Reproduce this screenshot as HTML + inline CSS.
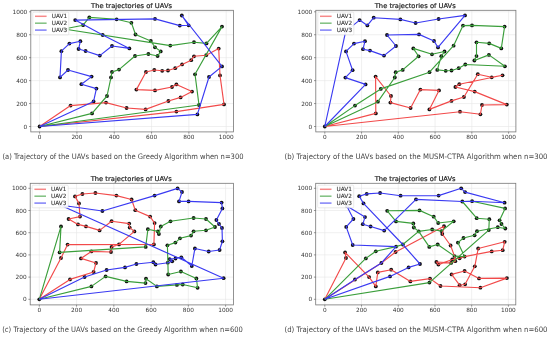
<!DOCTYPE html>
<html><head><meta charset="utf-8"><title>UAV trajectories</title>
<style>
html,body{margin:0;padding:0;background:#fff;}
svg{display:block;}
.tk{font-family:"DejaVu Sans",sans-serif;font-size:5.8px;fill:#333;}
.ti{font-family:"DejaVu Sans",sans-serif;font-size:6.6px;fill:#222;stroke:#222;stroke-width:0.2px;}
.lg{font-family:"DejaVu Sans",sans-serif;font-size:5.75px;fill:#333;stroke:#333;stroke-width:0.1px;}
.cap{font-family:"DejaVu Sans Condensed","DejaVu Sans",sans-serif;font-size:7.5px;fill:#444;}
</style></head><body>
<svg width="550" height="337" viewBox="0 0 550 337">
<rect width="550" height="337" fill="#fff"/>
<g id="pa">
<path d="M39.6 10.3V131.9M76.92 10.3V131.9M114.24 10.3V131.9M151.56 10.3V131.9M188.88 10.3V131.9M226.2 10.3V131.9M30.8 126.5H233.5M30.8 103.56H233.5M30.8 80.62H233.5M30.8 57.68H233.5M30.8 34.74H233.5M30.8 11.8H233.5" stroke="#e6e6e6" stroke-width="0.6" fill="none"/>
<g fill="#111"><circle cx="39.6" cy="126.5" r="1.9"/><circle cx="70.6" cy="105.6" r="1.9"/><circle cx="106" cy="102.6" r="1.9"/><circle cx="126.6" cy="108" r="1.9"/><circle cx="145.6" cy="109.4" r="1.9"/><circle cx="168.4" cy="101" r="1.9"/><circle cx="180.6" cy="97.4" r="1.9"/><circle cx="192" cy="91.6" r="1.9"/><circle cx="176.4" cy="84.4" r="1.9"/><circle cx="172" cy="87" r="1.9"/><circle cx="155" cy="90.4" r="1.9"/><circle cx="136.4" cy="89.6" r="1.9"/><circle cx="146" cy="72" r="1.9"/><circle cx="154.3" cy="70" r="1.9"/><circle cx="162.2" cy="70.8" r="1.9"/><circle cx="168" cy="70.5" r="1.9"/><circle cx="175.2" cy="68.2" r="1.9"/><circle cx="182.1" cy="64.4" r="1.9"/><circle cx="191.2" cy="60.2" r="1.9"/><circle cx="194" cy="56.3" r="1.9"/><circle cx="206.2" cy="55.2" r="1.9"/><circle cx="218.7" cy="48.6" r="1.9"/><circle cx="220" cy="75.4" r="1.9"/><circle cx="224" cy="104.4" r="1.9"/><circle cx="176.4" cy="111.6" r="1.9"/><circle cx="92" cy="113.4" r="1.9"/><circle cx="107" cy="96" r="1.9"/><circle cx="111" cy="77.4" r="1.9"/><circle cx="112" cy="72" r="1.9"/><circle cx="119" cy="69.6" r="1.9"/><circle cx="135" cy="56" r="1.9"/><circle cx="148.4" cy="54" r="1.9"/><circle cx="157.6" cy="56" r="1.9"/><circle cx="160.7" cy="51.4" r="1.9"/><circle cx="155" cy="47.3" r="1.9"/><circle cx="150.8" cy="41" r="1.9"/><circle cx="135.5" cy="34.5" r="1.9"/><circle cx="131.4" cy="22.8" r="1.9"/><circle cx="116.6" cy="19.3" r="1.9"/><circle cx="89.3" cy="17.4" r="1.9"/><circle cx="83.1" cy="25.2" r="1.9"/><circle cx="64" cy="29" r="1.9"/><circle cx="170.3" cy="45.6" r="1.9"/><circle cx="194" cy="42.2" r="1.9"/><circle cx="206.5" cy="43.4" r="1.9"/><circle cx="222" cy="26.6" r="1.9"/><circle cx="195" cy="74.3" r="1.9"/><circle cx="199" cy="105" r="1.9"/><circle cx="93.6" cy="101.4" r="1.9"/><circle cx="96.4" cy="88.6" r="1.9"/><circle cx="81.4" cy="84.2" r="1.9"/><circle cx="91.6" cy="76.6" r="1.9"/><circle cx="68" cy="70" r="1.9"/><circle cx="60" cy="77.4" r="1.9"/><circle cx="61.4" cy="51.2" r="1.9"/><circle cx="69.4" cy="43.6" r="1.9"/><circle cx="80.4" cy="41.2" r="1.9"/><circle cx="78.6" cy="49" r="1.9"/><circle cx="85.6" cy="51" r="1.9"/><circle cx="99.8" cy="55.6" r="1.9"/><circle cx="112" cy="46" r="1.9"/><circle cx="129.4" cy="48.4" r="1.9"/><circle cx="102.7" cy="35" r="1.9"/><circle cx="75.2" cy="20.1" r="1.9"/><circle cx="155" cy="18.9" r="1.9"/><circle cx="179.8" cy="25.6" r="1.9"/><circle cx="188.6" cy="25.3" r="1.9"/><circle cx="181.8" cy="15.5" r="1.9"/><circle cx="222" cy="66.4" r="1.9"/><circle cx="209" cy="77" r="1.9"/><circle cx="197.4" cy="114.4" r="1.9"/></g>
<polyline points="39.6,126.5 70.6,105.6 106,102.6 126.6,108 145.6,109.4 168.4,101 180.6,97.4 192,91.6 176.4,84.4 172,87 155,90.4 136.4,89.6 146,72 154.3,70 162.2,70.8 168,70.5 175.2,68.2 182.1,64.4 191.2,60.2 194,56.3 206.2,55.2 218.7,48.6 220,75.4 224,104.4 176.4,111.6 39.6,126.5" fill="none" stroke="#f24a4a" stroke-width="1.15" stroke-linejoin="round"/>
<polyline points="39.6,126.5 92,113.4 107,96 111,77.4 112,72 119,69.6 135,56 148.4,54 157.6,56 160.7,51.4 155,47.3 150.8,41 135.5,34.5 131.4,22.8 116.6,19.3 89.3,17.4 83.1,25.2 64,29 170.3,45.6 194,42.2 206.5,43.4 222,26.6 195,74.3 199,105 39.6,126.5" fill="none" stroke="#3a9e3a" stroke-width="1.15" stroke-linejoin="round"/>
<polyline points="39.6,126.5 93.6,101.4 96.4,88.6 81.4,84.2 91.6,76.6 68,70 60,77.4 61.4,51.2 69.4,43.6 80.4,41.2 78.6,49 85.6,51 99.8,55.6 112,46 129.4,48.4 102.7,35 75.2,20.1 155,18.9 179.8,25.6 188.6,25.3 181.8,15.5 222,66.4 209,77 197.4,114.4 39.6,126.5" fill="none" stroke="#3a3af2" stroke-width="1.15" stroke-linejoin="round"/>
<rect x="30.8" y="10.3" width="202.7" height="121.6" fill="none" stroke="#777" stroke-width="0.8"/>
<path d="M39.6 131.9v1.8M76.92 131.9v1.8M114.24 131.9v1.8M151.56 131.9v1.8M188.88 131.9v1.8M226.2 131.9v1.8M30.8 126.5h-1.8M30.8 103.56h-1.8M30.8 80.62h-1.8M30.8 57.68h-1.8M30.8 34.74h-1.8M30.8 11.8h-1.8" stroke="#555" stroke-width="0.6"/>
<text class="tk" x="39.6" y="138.9" text-anchor="middle">0</text>
<text class="tk" x="76.92" y="138.9" text-anchor="middle">200</text>
<text class="tk" x="114.24" y="138.9" text-anchor="middle">400</text>
<text class="tk" x="151.56" y="138.9" text-anchor="middle">600</text>
<text class="tk" x="188.88" y="138.9" text-anchor="middle">800</text>
<text class="tk" x="226.2" y="138.9" text-anchor="middle">1000</text>
<text class="tk" x="27.3" y="128.6" text-anchor="end">0</text>
<text class="tk" x="27.3" y="105.66" text-anchor="end">200</text>
<text class="tk" x="27.3" y="82.72" text-anchor="end">400</text>
<text class="tk" x="27.3" y="59.78" text-anchor="end">600</text>
<text class="tk" x="27.3" y="36.84" text-anchor="end">800</text>
<text class="tk" x="27.3" y="13.9" text-anchor="end">1000</text>
<text class="ti" x="91.05" y="7.6" textLength="81" lengthAdjust="spacingAndGlyphs">The trajectories of UAVs</text>
<rect x="32.8" y="12.2" width="36" height="22.6" rx="1" fill="#fff" fill-opacity="0.92" stroke="#d4d4d4" stroke-width="0.5"/>
<path d="M35 16.3h11.6" stroke="#f24a4a" stroke-width="1.5" stroke-opacity="0.65"/>
<text class="lg" x="51.7" y="18.2">UAV1</text>
<path d="M35 23.2h11.6" stroke="#3a9e3a" stroke-width="1.5" stroke-opacity="0.65"/>
<text class="lg" x="51.7" y="25.1">UAV2</text>
<path d="M35 30.1h11.6" stroke="#3a3af2" stroke-width="1.5" stroke-opacity="0.65"/>
<text class="lg" x="51.7" y="32">UAV3</text>
</g>
<text class="cap" x="2.4" y="159.2" textLength="241.2" lengthAdjust="spacingAndGlyphs">(a) Trajectory of the UAVs based on the Greedy Algorithm when n=300</text>
<g id="pb">
<path d="M324.8 10.3V131.9M361.56 10.3V131.9M398.32 10.3V131.9M435.08 10.3V131.9M471.84 10.3V131.9M508.6 10.3V131.9M315.8 126.5H515.9M315.8 103.56H515.9M315.8 80.62H515.9M315.8 57.68H515.9M315.8 34.74H515.9M315.8 11.8H515.9" stroke="#e6e6e6" stroke-width="0.6" fill="none"/>
<g fill="#111"><circle cx="324.8" cy="126.5" r="1.9"/><circle cx="375.8" cy="113.4" r="1.9"/><circle cx="375.6" cy="76.6" r="1.9"/><circle cx="391" cy="96" r="1.9"/><circle cx="390.4" cy="102.6" r="1.9"/><circle cx="410.6" cy="108" r="1.9"/><circle cx="420.4" cy="89.6" r="1.9"/><circle cx="439" cy="90.4" r="1.9"/><circle cx="429.4" cy="109.4" r="1.9"/><circle cx="451.5" cy="100.9" r="1.9"/><circle cx="463.9" cy="97" r="1.9"/><circle cx="477.8" cy="74.2" r="1.9"/><circle cx="491.7" cy="77.3" r="1.9"/><circle cx="502.5" cy="75.3" r="1.9"/><circle cx="459.3" cy="84.2" r="1.9"/><circle cx="455.4" cy="87" r="1.9"/><circle cx="474.7" cy="91.6" r="1.9"/><circle cx="506.8" cy="104.6" r="1.9"/><circle cx="482" cy="105" r="1.9"/><circle cx="480.4" cy="114.3" r="1.9"/><circle cx="460" cy="111.7" r="1.9"/><circle cx="355" cy="105.6" r="1.9"/><circle cx="380.8" cy="88.9" r="1.9"/><circle cx="429.5" cy="72.2" r="1.9"/><circle cx="453.6" cy="45.7" r="1.9"/><circle cx="463" cy="25.6" r="1.9"/><circle cx="472" cy="25.4" r="1.9"/><circle cx="504.6" cy="26.6" r="1.9"/><circle cx="501.3" cy="48.4" r="1.9"/><circle cx="489.2" cy="43.4" r="1.9"/><circle cx="476.5" cy="42.3" r="1.9"/><circle cx="476.5" cy="56.1" r="1.9"/><circle cx="474.4" cy="60.5" r="1.9"/><circle cx="488.9" cy="54.9" r="1.9"/><circle cx="504.9" cy="66.3" r="1.9"/><circle cx="465.3" cy="64.5" r="1.9"/><circle cx="458.7" cy="68.2" r="1.9"/><circle cx="451.5" cy="70.5" r="1.9"/><circle cx="445.7" cy="70.8" r="1.9"/><circle cx="437.3" cy="69.9" r="1.9"/><circle cx="441.3" cy="56.2" r="1.9"/><circle cx="444.5" cy="51.5" r="1.9"/><circle cx="432" cy="54.3" r="1.9"/><circle cx="413.3" cy="48.4" r="1.9"/><circle cx="418.6" cy="56.3" r="1.9"/><circle cx="402.7" cy="69.9" r="1.9"/><circle cx="395.7" cy="72.2" r="1.9"/><circle cx="394.8" cy="77.5" r="1.9"/><circle cx="377.9" cy="101.7" r="1.9"/><circle cx="365.6" cy="84.4" r="1.9"/><circle cx="345.4" cy="77.6" r="1.9"/><circle cx="352.6" cy="70.2" r="1.9"/><circle cx="346" cy="51.4" r="1.9"/><circle cx="354" cy="43.6" r="1.9"/><circle cx="365" cy="41.2" r="1.9"/><circle cx="363" cy="49.2" r="1.9"/><circle cx="370" cy="50.6" r="1.9"/><circle cx="384" cy="55.6" r="1.9"/><circle cx="396" cy="46" r="1.9"/><circle cx="387" cy="35" r="1.9"/><circle cx="419" cy="34.4" r="1.9"/><circle cx="434" cy="41" r="1.9"/><circle cx="438" cy="47.4" r="1.9"/><circle cx="465" cy="15.4" r="1.9"/><circle cx="438.6" cy="19" r="1.9"/><circle cx="415.6" cy="23" r="1.9"/><circle cx="400.4" cy="19.4" r="1.9"/><circle cx="373.7" cy="17.7" r="1.9"/><circle cx="367.4" cy="25.4" r="1.9"/><circle cx="359.6" cy="20.1" r="1.9"/><circle cx="345.7" cy="31.4" r="1.9"/></g>
<polyline points="324.8,126.5 375.8,113.4 375.6,76.6 391,96 390.4,102.6 410.6,108 420.4,89.6 439,90.4 429.4,109.4 451.5,100.9 463.9,97 477.8,74.2 491.7,77.3 502.5,75.3 459.3,84.2 455.4,87 474.7,91.6 506.8,104.6 482,105 480.4,114.3 460,111.7 324.8,126.5" fill="none" stroke="#f24a4a" stroke-width="1.15" stroke-linejoin="round"/>
<polyline points="324.8,126.5 355,105.6 380.8,88.9 429.5,72.2 453.6,45.7 463,25.6 472,25.4 504.6,26.6 501.3,48.4 489.2,43.4 476.5,42.3 476.5,56.1 474.4,60.5 488.9,54.9 504.9,66.3 465.3,64.5 458.7,68.2 451.5,70.5 445.7,70.8 437.3,69.9 441.3,56.2 444.5,51.5 432,54.3 413.3,48.4 418.6,56.3 402.7,69.9 395.7,72.2 394.8,77.5 377.9,101.7 324.8,126.5" fill="none" stroke="#3a9e3a" stroke-width="1.15" stroke-linejoin="round"/>
<polyline points="324.8,126.5 365.6,84.4 345.4,77.6 352.6,70.2 346,51.4 354,43.6 365,41.2 363,49.2 370,50.6 384,55.6 396,46 387,35 419,34.4 434,41 438,47.4 465,15.4 438.6,19 415.6,23 400.4,19.4 373.7,17.7 367.4,25.4 359.6,20.1 345.7,31.4 324.8,126.5" fill="none" stroke="#3a3af2" stroke-width="1.15" stroke-linejoin="round"/>
<rect x="315.8" y="10.3" width="200.1" height="121.6" fill="none" stroke="#777" stroke-width="0.8"/>
<path d="M324.8 131.9v1.8M361.56 131.9v1.8M398.32 131.9v1.8M435.08 131.9v1.8M471.84 131.9v1.8M508.6 131.9v1.8M315.8 126.5h-1.8M315.8 103.56h-1.8M315.8 80.62h-1.8M315.8 57.68h-1.8M315.8 34.74h-1.8M315.8 11.8h-1.8" stroke="#555" stroke-width="0.6"/>
<text class="tk" x="324.8" y="138.9" text-anchor="middle">0</text>
<text class="tk" x="361.56" y="138.9" text-anchor="middle">200</text>
<text class="tk" x="398.32" y="138.9" text-anchor="middle">400</text>
<text class="tk" x="435.08" y="138.9" text-anchor="middle">600</text>
<text class="tk" x="471.84" y="138.9" text-anchor="middle">800</text>
<text class="tk" x="508.6" y="138.9" text-anchor="middle">1000</text>
<text class="tk" x="312.3" y="128.6" text-anchor="end">0</text>
<text class="tk" x="312.3" y="105.66" text-anchor="end">200</text>
<text class="tk" x="312.3" y="82.72" text-anchor="end">400</text>
<text class="tk" x="312.3" y="59.78" text-anchor="end">600</text>
<text class="tk" x="312.3" y="36.84" text-anchor="end">800</text>
<text class="tk" x="312.3" y="13.9" text-anchor="end">1000</text>
<text class="ti" x="374.75" y="7.6" textLength="81" lengthAdjust="spacingAndGlyphs">The trajectories of UAVs</text>
<rect x="317.8" y="12.2" width="36" height="22.6" rx="1" fill="#fff" fill-opacity="0.92" stroke="#d4d4d4" stroke-width="0.5"/>
<path d="M320 16.3h11.6" stroke="#f24a4a" stroke-width="1.5" stroke-opacity="0.65"/>
<text class="lg" x="336.7" y="18.2">UAV1</text>
<path d="M320 23.2h11.6" stroke="#3a9e3a" stroke-width="1.5" stroke-opacity="0.65"/>
<text class="lg" x="336.7" y="25.1">UAV2</text>
<path d="M320 30.1h11.6" stroke="#3a3af2" stroke-width="1.5" stroke-opacity="0.65"/>
<text class="lg" x="336.7" y="32">UAV3</text>
</g>
<text class="cap" x="284.5" y="159.2" textLength="263" lengthAdjust="spacingAndGlyphs">(b) Trajectory of the UAVs based on the MUSM-CTPA Algorithm when n=300</text>
<g id="pc">
<path d="M39.3 183.3V304.9M76.56 183.3V304.9M113.82 183.3V304.9M151.08 183.3V304.9M188.34 183.3V304.9M225.6 183.3V304.9M30.2 299.3H233.4M30.2 277.1H233.4M30.2 254.9H233.4M30.2 232.7H233.4M30.2 210.5H233.4M30.2 188.3H233.4" stroke="#e6e6e6" stroke-width="0.6" fill="none"/>
<g fill="#111"><circle cx="39.3" cy="299.3" r="1.9"/><circle cx="61" cy="258" r="1.9"/><circle cx="67.6" cy="244.6" r="1.9"/><circle cx="153.9" cy="244.4" r="1.9"/><circle cx="154.6" cy="223.1" r="1.9"/><circle cx="150.1" cy="216.6" r="1.9"/><circle cx="135.3" cy="210.2" r="1.9"/><circle cx="131.6" cy="199.5" r="1.9"/><circle cx="116.4" cy="195.6" r="1.9"/><circle cx="95.4" cy="193" r="1.9"/><circle cx="82.4" cy="194" r="1.9"/><circle cx="75" cy="196.4" r="1.9"/><circle cx="79" cy="203.4" r="1.9"/><circle cx="80" cy="216.6" r="1.9"/><circle cx="68.6" cy="219" r="1.9"/><circle cx="78" cy="224.4" r="1.9"/><circle cx="86" cy="226.4" r="1.9"/><circle cx="99.6" cy="230.4" r="1.9"/><circle cx="111.6" cy="221.2" r="1.9"/><circle cx="129.2" cy="223.6" r="1.9"/><circle cx="129.7" cy="227.6" r="1.9"/><circle cx="134.4" cy="231.4" r="1.9"/><circle cx="119" cy="244.4" r="1.9"/><circle cx="111.6" cy="247" r="1.9"/><circle cx="111" cy="252" r="1.9"/><circle cx="91.4" cy="251.4" r="1.9"/><circle cx="81" cy="258.4" r="1.9"/><circle cx="96" cy="263" r="1.9"/><circle cx="93.6" cy="272" r="1.9"/><circle cx="70" cy="279.4" r="1.9"/><circle cx="61" cy="226.4" r="1.9"/><circle cx="59.6" cy="252.4" r="1.9"/><circle cx="145.7" cy="246.9" r="1.9"/><circle cx="147.9" cy="229.2" r="1.9"/><circle cx="157.9" cy="231.4" r="1.9"/><circle cx="158.9" cy="234" r="1.9"/><circle cx="160.8" cy="226.5" r="1.9"/><circle cx="170.5" cy="221.3" r="1.9"/><circle cx="193.6" cy="218" r="1.9"/><circle cx="206" cy="219" r="1.9"/><circle cx="215" cy="227" r="1.9"/><circle cx="206" cy="230.3" r="1.9"/><circle cx="193.6" cy="231.3" r="1.9"/><circle cx="191" cy="235.6" r="1.9"/><circle cx="180" cy="238.3" r="1.9"/><circle cx="175.4" cy="242.6" r="1.9"/><circle cx="167.4" cy="245.3" r="1.9"/><circle cx="168.2" cy="274.5" r="1.9"/><circle cx="180.9" cy="271.5" r="1.9"/><circle cx="196.4" cy="278.5" r="1.9"/><circle cx="197.6" cy="287.8" r="1.9"/><circle cx="182.7" cy="284.5" r="1.9"/><circle cx="176.9" cy="284.9" r="1.9"/><circle cx="156.9" cy="286.4" r="1.9"/><circle cx="146" cy="278.7" r="1.9"/><circle cx="145.5" cy="283.1" r="1.9"/><circle cx="126.6" cy="281.4" r="1.9"/><circle cx="105.6" cy="276.4" r="1.9"/><circle cx="91.4" cy="286.4" r="1.9"/><circle cx="84.6" cy="277" r="1.9"/><circle cx="106.6" cy="270" r="1.9"/><circle cx="125" cy="267.4" r="1.9"/><circle cx="136.4" cy="264" r="1.9"/><circle cx="153.3" cy="262.2" r="1.9"/><circle cx="155.5" cy="264.5" r="1.9"/><circle cx="167.8" cy="262.7" r="1.9"/><circle cx="172.2" cy="261.3" r="1.9"/><circle cx="169.6" cy="259.1" r="1.9"/><circle cx="175.5" cy="258.5" r="1.9"/><circle cx="181.3" cy="257.3" r="1.9"/><circle cx="191.8" cy="266" r="1.9"/><circle cx="194.9" cy="248.5" r="1.9"/><circle cx="208.7" cy="251.5" r="1.9"/><circle cx="219.6" cy="250" r="1.9"/><circle cx="222.4" cy="241.3" r="1.9"/><circle cx="222" cy="228" r="1.9"/><circle cx="219" cy="224" r="1.9"/><circle cx="216.4" cy="220" r="1.9"/><circle cx="222.4" cy="208.4" r="1.9"/><circle cx="221.6" cy="202.6" r="1.9"/><circle cx="188.6" cy="201.4" r="1.9"/><circle cx="179" cy="201.4" r="1.9"/><circle cx="182" cy="192" r="1.9"/><circle cx="177.6" cy="188.4" r="1.9"/><circle cx="154.6" cy="195.6" r="1.9"/><circle cx="102.4" cy="211" r="1.9"/><circle cx="60" cy="205" r="1.9"/><circle cx="223.6" cy="278.2" r="1.9"/></g>
<polyline points="39.3,299.3 61,258 67.6,244.6 153.9,244.4 154.6,223.1 150.1,216.6 135.3,210.2 131.6,199.5 116.4,195.6 95.4,193 82.4,194 75,196.4 79,203.4 80,216.6 68.6,219 78,224.4 86,226.4 99.6,230.4 111.6,221.2 129.2,223.6 129.7,227.6 134.4,231.4 119,244.4 111.6,247 111,252 91.4,251.4 81,258.4 96,263 93.6,272 70,279.4 39.3,299.3" fill="none" stroke="#f24a4a" stroke-width="1.15" stroke-linejoin="round"/>
<polyline points="39.3,299.3 61,226.4 59.6,252.4 145.7,246.9 147.9,229.2 157.9,231.4 158.9,234 160.8,226.5 170.5,221.3 193.6,218 206,219 215,227 206,230.3 193.6,231.3 191,235.6 180,238.3 175.4,242.6 167.4,245.3 168.2,274.5 180.9,271.5 196.4,278.5 197.6,287.8 182.7,284.5 176.9,284.9 156.9,286.4 146,278.7 145.5,283.1 126.6,281.4 105.6,276.4 91.4,286.4 39.3,299.3" fill="none" stroke="#3a9e3a" stroke-width="1.15" stroke-linejoin="round"/>
<polyline points="39.3,299.3 84.6,277 106.6,270 125,267.4 136.4,264 153.3,262.2 155.5,264.5 167.8,262.7 172.2,261.3 169.6,259.1 175.5,258.5 181.3,257.3 191.8,266 194.9,248.5 208.7,251.5 219.6,250 222.4,241.3 222,228 219,224 216.4,220 222.4,208.4 221.6,202.6 188.6,201.4 179,201.4 182,192 177.6,188.4 154.6,195.6 102.4,211 60,205 223.6,278.2 39.3,299.3" fill="none" stroke="#3a3af2" stroke-width="1.15" stroke-linejoin="round"/>
<rect x="30.2" y="183.3" width="203.2" height="121.6" fill="none" stroke="#777" stroke-width="0.8"/>
<path d="M39.3 304.9v1.8M76.56 304.9v1.8M113.82 304.9v1.8M151.08 304.9v1.8M188.34 304.9v1.8M225.6 304.9v1.8M30.2 299.3h-1.8M30.2 277.1h-1.8M30.2 254.9h-1.8M30.2 232.7h-1.8M30.2 210.5h-1.8M30.2 188.3h-1.8" stroke="#555" stroke-width="0.6"/>
<text class="tk" x="39.3" y="311.9" text-anchor="middle">0</text>
<text class="tk" x="76.56" y="311.9" text-anchor="middle">200</text>
<text class="tk" x="113.82" y="311.9" text-anchor="middle">400</text>
<text class="tk" x="151.08" y="311.9" text-anchor="middle">600</text>
<text class="tk" x="188.34" y="311.9" text-anchor="middle">800</text>
<text class="tk" x="225.6" y="311.9" text-anchor="middle">1000</text>
<text class="tk" x="26.7" y="301.4" text-anchor="end">0</text>
<text class="tk" x="26.7" y="279.2" text-anchor="end">200</text>
<text class="tk" x="26.7" y="257" text-anchor="end">400</text>
<text class="tk" x="26.7" y="234.8" text-anchor="end">600</text>
<text class="tk" x="26.7" y="212.6" text-anchor="end">800</text>
<text class="tk" x="26.7" y="190.4" text-anchor="end">1000</text>
<text class="ti" x="90.7" y="180.6" textLength="81" lengthAdjust="spacingAndGlyphs">The trajectories of UAVs</text>
<rect x="32.2" y="185.2" width="36" height="22.6" rx="1" fill="#fff" fill-opacity="0.92" stroke="#d4d4d4" stroke-width="0.5"/>
<path d="M34.4 189.3h11.6" stroke="#f24a4a" stroke-width="1.5" stroke-opacity="0.65"/>
<text class="lg" x="51.1" y="191.2">UAV1</text>
<path d="M34.4 196.2h11.6" stroke="#3a9e3a" stroke-width="1.5" stroke-opacity="0.65"/>
<text class="lg" x="51.1" y="198.1">UAV2</text>
<path d="M34.4 203.1h11.6" stroke="#3a3af2" stroke-width="1.5" stroke-opacity="0.65"/>
<text class="lg" x="51.1" y="205">UAV3</text>
</g>
<text class="cap" x="2.2" y="332.2" textLength="240.7" lengthAdjust="spacingAndGlyphs">(c) Trajectory of the UAVs based on the Greedy Algorithm when n=600</text>
<g id="pd">
<path d="M324.8 183.3V304.9M361.52 183.3V304.9M398.24 183.3V304.9M434.96 183.3V304.9M471.68 183.3V304.9M508.4 183.3V304.9M315.7 299.3H515.8M315.7 277.1H515.8M315.7 254.9H515.8M315.7 232.7H515.8M315.7 210.5H515.8M315.7 188.3H515.8" stroke="#e6e6e6" stroke-width="0.6" fill="none"/>
<g fill="#111"><circle cx="324.8" cy="299.3" r="1.9"/><circle cx="346" cy="258" r="1.9"/><circle cx="345.1" cy="252.4" r="1.9"/><circle cx="369.1" cy="277.1" r="1.9"/><circle cx="375.8" cy="286.4" r="1.9"/><circle cx="377.8" cy="272.4" r="1.9"/><circle cx="391.2" cy="269.7" r="1.9"/><circle cx="410.4" cy="281.4" r="1.9"/><circle cx="430" cy="278.6" r="1.9"/><circle cx="440.5" cy="286" r="1.9"/><circle cx="480.4" cy="287.7" r="1.9"/><circle cx="506.9" cy="278.1" r="1.9"/><circle cx="479" cy="278.4" r="1.9"/><circle cx="464.6" cy="271" r="1.9"/><circle cx="451.6" cy="274.4" r="1.9"/><circle cx="459.6" cy="285.2" r="1.9"/><circle cx="465.1" cy="284.3" r="1.9"/><circle cx="474.8" cy="266.3" r="1.9"/><circle cx="478.2" cy="248.5" r="1.9"/><circle cx="504.7" cy="241.8" r="1.9"/><circle cx="502.7" cy="250.2" r="1.9"/><circle cx="491.7" cy="251.4" r="1.9"/><circle cx="464.6" cy="256.6" r="1.9"/><circle cx="459.6" cy="258.3" r="1.9"/><circle cx="452.3" cy="259.5" r="1.9"/><circle cx="438.4" cy="264.6" r="1.9"/><circle cx="436.4" cy="262" r="1.9"/><circle cx="451.1" cy="262.9" r="1.9"/><circle cx="455.3" cy="261.2" r="1.9"/><circle cx="454.5" cy="256.1" r="1.9"/><circle cx="450.6" cy="245.5" r="1.9"/><circle cx="442.3" cy="234" r="1.9"/><circle cx="444" cy="226.2" r="1.9"/><circle cx="395.6" cy="252" r="1.9"/><circle cx="381.4" cy="263" r="1.9"/><circle cx="365.8" cy="258.4" r="1.9"/><circle cx="375.8" cy="251.3" r="1.9"/><circle cx="396.1" cy="246.6" r="1.9"/><circle cx="402.8" cy="244.5" r="1.9"/><circle cx="418.7" cy="231.4" r="1.9"/><circle cx="432.2" cy="229.5" r="1.9"/><circle cx="441.5" cy="231.1" r="1.9"/><circle cx="453.7" cy="221.3" r="1.9"/><circle cx="438.2" cy="223" r="1.9"/><circle cx="433.7" cy="216.7" r="1.9"/><circle cx="419.5" cy="210.4" r="1.9"/><circle cx="387.2" cy="210.8" r="1.9"/><circle cx="396" cy="221.4" r="1.9"/><circle cx="413.3" cy="223.4" r="1.9"/><circle cx="413.8" cy="227.5" r="1.9"/><circle cx="429.3" cy="246.9" r="1.9"/><circle cx="437.7" cy="244.5" r="1.9"/><circle cx="457.9" cy="242.6" r="1.9"/><circle cx="463.5" cy="238" r="1.9"/><circle cx="474.6" cy="235.3" r="1.9"/><circle cx="477" cy="231.2" r="1.9"/><circle cx="497.8" cy="227.2" r="1.9"/><circle cx="505.3" cy="228.5" r="1.9"/><circle cx="501.5" cy="224" r="1.9"/><circle cx="499.6" cy="220.3" r="1.9"/><circle cx="505.1" cy="208.4" r="1.9"/><circle cx="472.1" cy="201.2" r="1.9"/><circle cx="462.3" cy="201.5" r="1.9"/><circle cx="476.7" cy="218.2" r="1.9"/><circle cx="489.3" cy="219.2" r="1.9"/><circle cx="488.8" cy="230.1" r="1.9"/><circle cx="429.4" cy="282.6" r="1.9"/><circle cx="355" cy="279.5" r="1.9"/><circle cx="352.7" cy="245" r="1.9"/><circle cx="346.2" cy="226.9" r="1.9"/><circle cx="353.4" cy="219" r="1.9"/><circle cx="346.8" cy="206" r="1.9"/><circle cx="365" cy="217.1" r="1.9"/><circle cx="362.8" cy="224.2" r="1.9"/><circle cx="370.6" cy="226.5" r="1.9"/><circle cx="384.2" cy="230.6" r="1.9"/><circle cx="416" cy="199.4" r="1.9"/><circle cx="504.6" cy="202.7" r="1.9"/><circle cx="465.1" cy="192.1" r="1.9"/><circle cx="461.2" cy="188.3" r="1.9"/><circle cx="438.6" cy="195.6" r="1.9"/><circle cx="400.6" cy="195.7" r="1.9"/><circle cx="380.1" cy="193" r="1.9"/><circle cx="366.7" cy="193.9" r="1.9"/><circle cx="359.2" cy="196.2" r="1.9"/><circle cx="363.5" cy="203.4" r="1.9"/><circle cx="420" cy="264" r="1.9"/><circle cx="408.6" cy="267.4" r="1.9"/><circle cx="390" cy="276.4" r="1.9"/></g>
<polyline points="324.8,299.3 346,258 345.1,252.4 369.1,277.1 375.8,286.4 377.8,272.4 391.2,269.7 410.4,281.4 430,278.6 440.5,286 480.4,287.7 506.9,278.1 479,278.4 464.6,271 451.6,274.4 459.6,285.2 465.1,284.3 474.8,266.3 478.2,248.5 504.7,241.8 502.7,250.2 491.7,251.4 464.6,256.6 459.6,258.3 452.3,259.5 438.4,264.6 436.4,262 451.1,262.9 455.3,261.2 454.5,256.1 450.6,245.5 442.3,234 444,226.2 395.6,252 381.4,263 324.8,299.3" fill="none" stroke="#f24a4a" stroke-width="1.15" stroke-linejoin="round"/>
<polyline points="324.8,299.3 365.8,258.4 375.8,251.3 396.1,246.6 402.8,244.5 418.7,231.4 432.2,229.5 441.5,231.1 453.7,221.3 438.2,223 433.7,216.7 419.5,210.4 387.2,210.8 396,221.4 413.3,223.4 413.8,227.5 418.7,231.4 429.3,246.9 437.7,244.5 454.5,256.1 464.6,256.6 457.9,242.6 463.5,238 474.6,235.3 477,231.2 497.8,227.2 505.3,228.5 501.5,224 499.6,220.3 505.1,208.4 472.1,201.2 462.3,201.5 476.7,218.2 489.3,219.2 488.8,230.1 429.4,282.6 324.8,299.3" fill="none" stroke="#3a9e3a" stroke-width="1.15" stroke-linejoin="round"/>
<polyline points="324.8,299.3 355,279.5 381.4,263 396.1,246.6 352.7,245 346.2,226.9 353.4,219 346.8,206 365,217.1 362.8,224.2 370.6,226.5 384.2,230.6 416,199.4 462.3,201.5 472.1,201.2 504.6,202.7 465.1,192.1 461.2,188.3 438.6,195.6 400.6,195.7 380.1,193 366.7,193.9 359.2,196.2 363.5,203.4 402.8,244.5 420,264 408.6,267.4 390,276.4 324.8,299.3" fill="none" stroke="#3a3af2" stroke-width="1.15" stroke-linejoin="round"/>
<rect x="315.7" y="183.3" width="200.1" height="121.6" fill="none" stroke="#777" stroke-width="0.8"/>
<path d="M324.8 304.9v1.8M361.52 304.9v1.8M398.24 304.9v1.8M434.96 304.9v1.8M471.68 304.9v1.8M508.4 304.9v1.8M315.7 299.3h-1.8M315.7 277.1h-1.8M315.7 254.9h-1.8M315.7 232.7h-1.8M315.7 210.5h-1.8M315.7 188.3h-1.8" stroke="#555" stroke-width="0.6"/>
<text class="tk" x="324.8" y="311.9" text-anchor="middle">0</text>
<text class="tk" x="361.52" y="311.9" text-anchor="middle">200</text>
<text class="tk" x="398.24" y="311.9" text-anchor="middle">400</text>
<text class="tk" x="434.96" y="311.9" text-anchor="middle">600</text>
<text class="tk" x="471.68" y="311.9" text-anchor="middle">800</text>
<text class="tk" x="508.4" y="311.9" text-anchor="middle">1000</text>
<text class="tk" x="312.2" y="301.4" text-anchor="end">0</text>
<text class="tk" x="312.2" y="279.2" text-anchor="end">200</text>
<text class="tk" x="312.2" y="257" text-anchor="end">400</text>
<text class="tk" x="312.2" y="234.8" text-anchor="end">600</text>
<text class="tk" x="312.2" y="212.6" text-anchor="end">800</text>
<text class="tk" x="312.2" y="190.4" text-anchor="end">1000</text>
<text class="ti" x="374.65" y="180.6" textLength="81" lengthAdjust="spacingAndGlyphs">The trajectories of UAVs</text>
<rect x="317.7" y="185.2" width="36" height="22.6" rx="1" fill="#fff" fill-opacity="0.92" stroke="#d4d4d4" stroke-width="0.5"/>
<path d="M319.9 189.3h11.6" stroke="#f24a4a" stroke-width="1.5" stroke-opacity="0.65"/>
<text class="lg" x="336.6" y="191.2">UAV1</text>
<path d="M319.9 196.2h11.6" stroke="#3a9e3a" stroke-width="1.5" stroke-opacity="0.65"/>
<text class="lg" x="336.6" y="198.1">UAV2</text>
<path d="M319.9 203.1h11.6" stroke="#3a3af2" stroke-width="1.5" stroke-opacity="0.65"/>
<text class="lg" x="336.6" y="205">UAV3</text>
</g>
<text class="cap" x="284.5" y="332.2" textLength="263" lengthAdjust="spacingAndGlyphs">(d) Trajectory of the UAVs based on the MUSM-CTPA Algorithm when n=600</text>
</svg></body></html>
